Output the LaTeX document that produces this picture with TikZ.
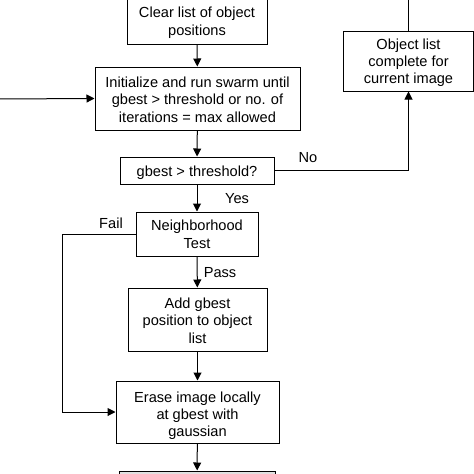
\documentclass[tikz,border=0pt]{standalone}
\usepackage{fontspec}
\setmainfont{Liberation Sans}
\usetikzlibrary{arrows.meta}

\begin{document}
\begin{tikzpicture}[x=1pt,y=1pt,yscale=-1,xscale=1,
    box/.style={draw, line width=1pt, align=center, inner sep=0pt, font=\fontsize{14.6}{17.2}\selectfont,
        text depth=0pt},
    lbl/.style={inner sep=0pt, font=\fontsize{14.6}{17.2}\selectfont},
    link/.style={line width=1pt},
    arr/.style={line width=1pt, -{Triangle[length=8pt,width=8pt]}}]
    \useasboundingbox (0,0) rectangle (474,474);

    % Process boxes
    \node [box, text height=28, minimum width=140, minimum height=46] (clear) at (197,21) {Clear list of object\\positions};
    \node [box, text height=47, minimum width=205, minimum height=63] (swarm) at (197.5,98.5) {Initialize and run swarm until\\gbest > threshold or no. of\\iterations = max allowed};
    \node [box, text height=11, minimum width=154, minimum height=27] (check) at (197,170.5) {gbest > threshold?};
    \node [box, text height=45, minimum width=130, minimum height=60] (done) at (408.5,61) {Object list\\complete for\\current image};
    \node [box, text height=28, minimum width=122, minimum height=44] (nbr) at (197,234) {Neighborhood\\Test};
    \node [box, text height=47, minimum width=139, minimum height=63] (add) at (197.5,319.5) {Add gbest\\position to object\\list};
    \node [box, text height=49, minimum width=163, minimum height=62] (erase) at (197.5,412) {Erase image locally\\at gbest with\\gaussian};
    \node [box, fill=black!12, minimum width=156, minimum height=40] (next) at (197,491) {};

    % Free ends
    \coordinate (loopin) at (-2,99);
    \coordinate (up) at (408.5,-2);
    \coordinate (failx) at (62,234);

    % Connectors
    \draw [arr] (clear) -- (swarm);
    \draw [arr] (loopin) -- (swarm.west);
    \draw [arr] (swarm) -- (check);
    \draw [arr] (check.east) -| (done.south);
    \draw [link] (done.north) -- (up);
    \draw [arr] (check) -- (nbr);
    \draw [arr] (nbr.west) -- (failx) |- (erase.west);
    \draw [arr] (nbr) -- (add);
    \draw [arr] (add) -- (erase);
    \draw [arr] (erase) -- (next);

    % Text Node
    \node [lbl] (no) at (308,158) {No};
    % Text Node
    \node [lbl] (yes) at (237,199) {Yes};
    % Text Node
    \node [lbl] (fail) at (111,223) {Fail};
    % Text Node
    \node [lbl] (pass) at (220,273) {Pass};

\end{tikzpicture}
\end{document}
